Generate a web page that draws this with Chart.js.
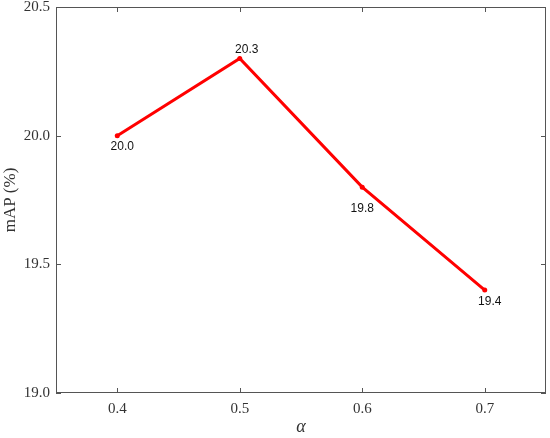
<!DOCTYPE html>
<html>
<head>
<meta charset="utf-8">
<script src="https://cdn.jsdelivr.net/npm/chart.js@4/dist/chart.umd.min.js"></script>
<style>
  html, body { margin: 0; padding: 0; background: #fff; }
  #wrap { width: 550px; height: 438px; }
</style>
</head>
<body>
<div id="wrap"><canvas id="chart" width="550" height="438"></canvas></div>
<script>
// данные с картинки
const alphaValues = [0.4, 0.5, 0.6, 0.7];
const mapValues = [20.0, 20.3, 19.8, 19.4];
const xTicks = [0.4, 0.5, 0.6, 0.7];
const yTicks = [19.0, 19.5, 20.0, 20.5];

// смещения подписей точек: [dx, dy, baseline]
const labelOffsets = [[5, 5, "top"], [7, -3, "bottom"], [0, 16, "top"], [5, 6, "top"]];

const frameColor = "#555";

// рамка и засечки внутрь
const framePlugin = {
  id: "frame",
  afterDraw(chart) {
    const { ctx, chartArea: a, scales } = chart;
    ctx.save();
    ctx.strokeStyle = frameColor;
    ctx.lineWidth = 1;
    ctx.strokeRect(a.left + 0.5, a.top + 0.5, a.right - a.left - 1, a.bottom - a.top - 1);
    ctx.beginPath();
    const len = 5;
    scales.x.ticks.forEach((t) => {
      const px = Math.round(scales.x.getPixelForValue(t.value)) + 0.5;
      ctx.moveTo(px, a.bottom);
      ctx.lineTo(px, a.bottom - len);
      ctx.moveTo(px, a.top);
      ctx.lineTo(px, a.top + len);
    });
    scales.y.ticks.forEach((t) => {
      const py = Math.round(scales.y.getPixelForValue(t.value)) + 0.5;
      ctx.moveTo(a.left, py);
      ctx.lineTo(a.left + len, py);
      ctx.moveTo(a.right, py);
      ctx.lineTo(a.right - len, py);
    });
    ctx.stroke();
    ctx.restore();
  },
};

// подписи значений у точек
const valueLabels = {
  id: "valueLabels",
  afterDatasetsDraw(chart) {
    const { ctx } = chart;
    const meta = chart.getDatasetMeta(0);
    ctx.save();
    ctx.font = '12px "Liberation Sans", Arial, sans-serif';
    ctx.fillStyle = "#111";
    ctx.textAlign = "center";
    meta.data.forEach((pt, i) => {
      const [dx, dy, base] = labelOffsets[i];
      ctx.textBaseline = base;
      ctx.fillText(mapValues[i].toFixed(1), pt.x + dx, pt.y + dy);
    });
    ctx.restore();
  },
};

const serif = '"Liberation Serif", "Times New Roman", serif';

new Chart(document.getElementById("chart"), {
  type: "scatter",
  data: {
    datasets: [
      {
        label: "mAP",
        data: alphaValues.map((x, i) => ({ x, y: mapValues[i] })),
        showLine: true,
        borderColor: "#ff0000",
        backgroundColor: "#ff0000",
        borderWidth: 3,
        pointRadius: 2.5,
        pointBorderWidth: 0,
        tension: 0,
      },
    ],
  },
  options: {
    responsive: false,
    animation: false,
    layout: { padding: { top: 7, right: 3, left: 0, bottom: 0 } },
    plugins: { legend: { display: false }, tooltip: { enabled: false } },
    scales: {
      x: {
        type: "linear",
        min: 0.35,
        max: 0.75,
        afterBuildTicks: (s) => { s.ticks = xTicks.map((v) => ({ value: v })); },
        afterFit: (s) => { s.height = 45; s.paddingLeft = 0; s.paddingRight = 0; },
        grid: { display: false, drawTicks: false },
        border: { display: false },
        ticks: {
          color: "#333",
          font: { family: serif, size: 15 },
          padding: 7,
          callback: (v) => v.toFixed(1),
        },
        title: {
          display: true,
          text: "α",
          color: "#333",
          font: { family: serif, size: 18, style: "italic" },
          padding: { top: 0, bottom: 0 },
        },
      },
      y: {
        min: 19.0,
        max: 20.5,
        afterBuildTicks: (s) => { s.ticks = yTicks.map((v) => ({ value: v })); },
        afterFit: (s) => { s.width = 56; s.paddingTop = 0; s.paddingBottom = 0; },
        grid: { display: false, drawTicks: false },
        border: { display: false },
        ticks: {
          color: "#333",
          font: { family: serif, size: 15 },
          padding: 6,
          callback: (v) => v.toFixed(1),
        },
        title: {
          display: true,
          text: "mAP (%)",
          color: "#333",
          font: { family: serif, size: 17 },
          padding: { top: 0, bottom: 2 },
        },
      },
    },
  },
  plugins: [framePlugin, valueLabels],
});
</script>
</body>
</html>
